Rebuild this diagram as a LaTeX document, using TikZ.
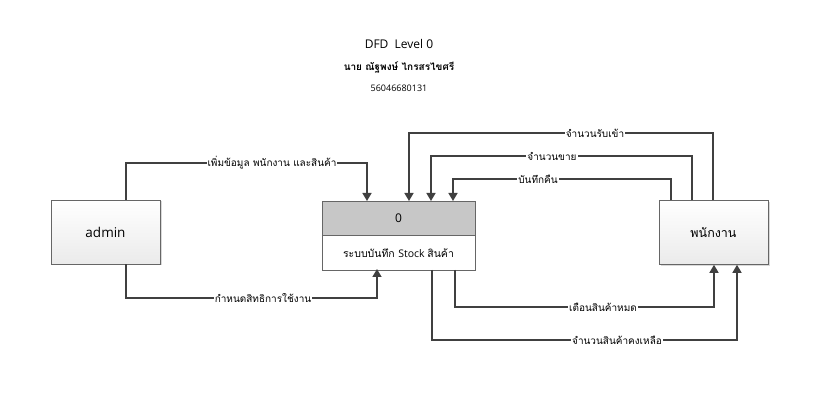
\documentclass[tikz,border=0pt]{standalone}
\usepackage{fontspec}
\setmainfont{Open Sans}
\newfontfamily\thai[Script=Thai]{Loma}
\usetikzlibrary{arrows.meta,shadows}
\begin{document}
\begin{tikzpicture}[x=1pt,y=-1pt,
  flow/.style={draw=black!75,line width=1.5pt,-{Triangle[length=8pt,width=9pt]}},
  lbl/.style={fill=white,inner sep=1pt,font=\thai\fontsize{10}{12}\selectfont},
  ext/.style={draw=black!60,line width=0.6pt,top color=white,bottom color=black!8,drop shadow={shadow xshift=1.5pt,shadow yshift=-1.5pt,opacity=0.3},minimum width=109pt,minimum height=64pt,inner sep=0pt}]
\useasboundingbox (0,0) rectangle (823,419);
\node (t1) at (399,44) {\fontsize{12}{14}\selectfont DFD\ \ Level 0};
\node (t2) at (399,67) {\thai\bfseries\fontsize{10}{12}\selectfont นาย ณัฐพงษ์ ไกรสรไขศรี};
\node (t3) at (399,88) {\fontsize{9}{11}\selectfont 56046680131};
\node[ext] (admin) at (105.5,232) {\fontsize{13.5}{16}\selectfont admin};
\node[ext] (emp) at (713.5,232.5) {\thai\fontsize{12.5}{15}\selectfont พนักงาน};
% process
\path[draw=black!60,line width=0.6pt,fill=black!22] (322,201) rectangle (475,235);
\path[draw=black!60,line width=0.6pt,fill=white] (322,235) rectangle (475,270);
\node[inner sep=0pt] (proc) at (398.5,218) {\fontsize{12}{14}\selectfont 0};
\node[inner sep=0pt] (pname) at (398.5,253) {\thai\fontsize{10.5}{13}\selectfont ระบบบันทึก \fontspec{Open Sans}Stock \thai สินค้า};
\coordinate (ptop) at (398.5,201);
\coordinate (pbot) at (398.5,270);
% admin flows
\draw[flow] (admin.north -| 126,0) |- (367,163) -- (ptop -| 367,0);
\node[lbl] at (272,163) {เพิ่มข้อมูล พนักงาน และสินค้า};
\draw[flow] (admin.south -| 126,0) |- (377,298) -- ([yshift=1pt]pbot -| 377,0);
\node[lbl] at (263,298) {กำหนดสิทธิการใช้งาน};
% employee to process
\draw[flow] (emp.north -| 713,0) |- (409,133) -- (ptop -| 409,0);
\node[lbl] at (595,133) {จำนวนรับเข้า};
\draw[flow] (emp.north -| 692,0) |- (431,156) -- (ptop -| 431,0);
\node[lbl] at (552,156) {จำนวนขาย};
\draw[flow] (emp.north -| 671,0) |- (453,179) -- (ptop -| 453,0);
\node[lbl] at (538,179) {บันทึกคืน};
% process to employee
\draw[flow] (pbot -| 455,0) |- (714,307) -- (emp.south -| 714,0);
\node[lbl] at (603,307) {เตือนสินค้าหมด};
\draw[flow] (pbot -| 432,0) |- (737,340) -- (emp.south -| 737,0);
\node[lbl] at (617,340) {จำนวนสินค้าคงเหลือ};
\end{tikzpicture}
\end{document}
